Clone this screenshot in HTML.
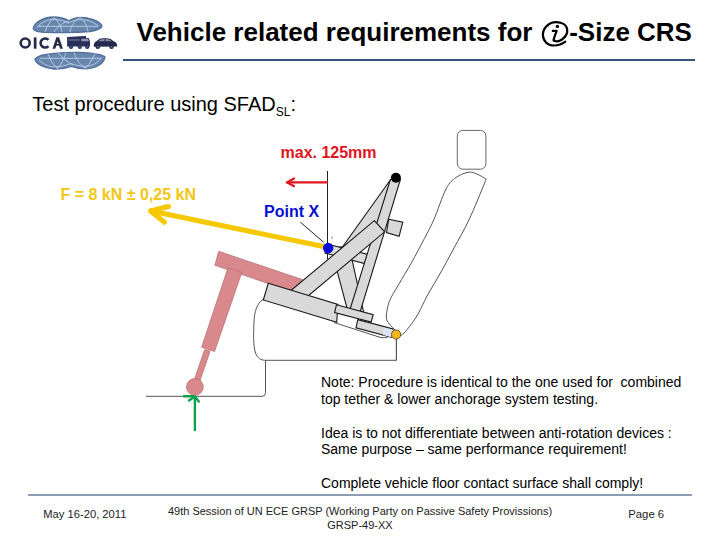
<!DOCTYPE html>
<html><head><meta charset="utf-8">
<style>
html,body{margin:0;padding:0;background:#fff;}
body{width:720px;height:540px;position:relative;overflow:hidden;font-family:"Liberation Sans",sans-serif;}
.a{position:absolute;white-space:nowrap;}
svg{position:absolute;left:0;top:0;}
#title{left:136.5px;top:16.6px;font-size:26px;line-height:30px;font-weight:bold;color:#000;}
#tline{left:123px;top:59px;width:572px;height:2px;background:#34547c;}
#sub{left:32.3px;top:92px;font-size:20px;line-height:24px;color:#000;}
#sub sub{font-size:12px;vertical-align:-5px;line-height:0;}
#note{left:321px;top:374px;font-size:14px;line-height:16.85px;color:#000;}
#bline{left:28px;top:494px;width:664px;height:2px;background:#8d9db4;}
.ft{font-size:11px;line-height:13.8px;color:#222;}
#f1{left:43.3px;top:507.8px;font-size:11.2px;}
.f2{left:0;width:720px;text-align:center;}
#f3{left:628.3px;top:507.6px;font-size:11.3px;}
.lbl{font-weight:bold;font-size:16px;line-height:18px;}
#max{left:280.5px;top:144px;color:#e0141e;}
#force{left:60.5px;top:186px;color:#f2c614;}
#px{left:264px;top:203px;color:#0a10d0;}
</style></head><body>
<svg width="720" height="540" viewBox="0 0 720 540">
  <!-- logo -->
  <g id="logo">
    <path d="M33.2,28.5 C34.5,22 44,17 53.6,17 C60,17 65.5,18.8 69.1,20.9 C72.5,18.5 76,17.3 80.2,17.3 C89,17.3 99,20.5 102,25.5 C102.3,27.5 98,30 90,31.5 C78,32.6 50,32.8 42,32.2 C37,31.6 33.3,30.5 33.2,28.5 Z" fill="#6786ae" stroke="#52709a" stroke-width="1.3"/>
    <g fill="none" stroke="#c8d8ec" stroke-width="0.9" opacity="0.9">
      <path d="M37,27.4 C42,21.5 48,19.4 54,19.4 C60,19.4 65,21 69,23.5"/>
      <path d="M68,23.3 C72,20.8 76,19.7 80.5,19.7 C88,19.7 94,22.2 98,26"/>
      <path d="M38,26.3 L98,26.3"/>
      <path d="M45,32 C47,26 50,21 54,17.5"/>
      <path d="M62,32 C61,26 58,21 54,17.5"/>
      <path d="M70,32 C71,26 74,21 80,17.5"/>
      <path d="M88,31.5 C87,26 85,21 80,17.5"/>
      <path d="M54,32 C58,26 64,22 69,21"/>
    </g>
    <path d="M35,59 C38,55.5 46,54 52,53.6 C62,52.6 72,52.2 80,52.4 C90,52.8 100,54 104.8,56.5 C105,63 96,68.5 86,68.8 C80,68.8 75,67.6 71.3,66.3 C67,68 61,69.2 54,69 C44,68 35,63.5 35,59 Z" fill="#6786ae" stroke="#52709a" stroke-width="1.3"/>
    <g fill="none" stroke="#c8d8ec" stroke-width="0.9" opacity="0.9">
      <path d="M39,60 C44,64.5 48,66.5 53,66.8 C60,67 66,65.5 71,63.5"/>
      <path d="M71,63.5 C76,65.5 82,66.8 88,66.2 C95,65 99,61 101.5,57.5"/>
      <path d="M40,58.3 L101,58.3"/>
      <path d="M48,53.5 C50,60 53,65 58,68.5"/>
      <path d="M66,52.6 C64,59 61,65 57,68.5"/>
      <path d="M74,52.5 C76,59 80,65 86,68.5"/>
      <path d="M95,53.5 C92,60 89,65 85,68.5"/>
      <path d="M58,52.5 C62,58 67,62 73,65"/>
    </g>
    <g fill="none" stroke="#262a48" stroke-width="2.6">
      <circle cx="25.2" cy="43" r="4.5"/>
      <path d="M48.44,39.99 A4.50,4.50 0 1 0 48.44,46.01"/>
      
    </g>
    <rect x="33.8" y="37.4" width="2.7" height="11.3" fill="#262a48"/><path d="M52.5,48.7 L56.4,37.3 L59.1,37.3 L62.9,48.7 L60.1,48.7 L57.75,41.2 L55.3,48.7 Z" fill="#262a48"/><rect x="55.3" y="44" width="4.8" height="1.6" fill="#262a48"/>
    <g fill="#2a2f5c">
      <path d="M67.1,36.9 L80.5,36.2 L86,36 L86,38 L88.6,38 L90,41.3 L90,46.6 L67.1,46.6 Z"/>
      <circle cx="71" cy="46.9" r="2.1"/>
      <circle cx="79.8" cy="46.9" r="2.1"/>
      <circle cx="87.2" cy="46.9" r="2.1"/>
    </g>
    <g fill="#fff" opacity="0.5">
      <path d="M81.3,38.7 L88,38.7 L88.9,41.2 L81.3,41.2 Z"/>
      <rect x="68.5" y="39.6" width="11" height="0.8"/>
    </g>
    <g fill="#24284c">
      <path d="M93.8,46.3 C93.6,43.6 94.6,42 97,40.8 L99.6,38.7 C102,38 108,38 110.6,39 L113.6,41.3 C116,42 117.3,43.6 117.2,46.6 L93.8,46.8 Z"/>
      <circle cx="97.8" cy="46.8" r="2.3"/>
      <circle cx="111.5" cy="46.8" r="2.3"/>
    </g>
    <g fill="#fff" opacity="0.45">
      <path d="M100.2,39.4 L104.5,39.1 L104.5,41.3 L98.3,41.3 Z"/>
      <path d="M105.5,39.1 C107.5,39.1 109.5,39.5 111.8,41.3 L105.5,41.3 Z"/>
    </g>
    <g fill="#fff" opacity="0.4"><circle cx="71" cy="46.9" r="0.7"/><circle cx="79.8" cy="46.9" r="0.7"/><circle cx="87.2" cy="46.9" r="0.7"/><circle cx="97.8" cy="46.8" r="0.8"/><circle cx="111.5" cy="46.8" r="0.8"/></g>
  <!-- i-Size logo -->
  <g fill="none" stroke="#000" stroke-linecap="round" stroke-linejoin="round">
    <path d="M554.5,40.6 C556.5,42 559.5,41.2 562,39.5 C565.5,37 567.6,33 567.2,29.5 C566.5,24.5 561.5,22.2 556,22.2 C549,22.2 543,28 542.9,34.5 C542.8,41 547.5,45.5 554,45.5 C558.5,45.5 562.5,43.8 565.3,41.6" stroke-width="2.2"/>
    <path d="M552.8,30.9 L556.6,30.9 C555.5,34 554.4,37 553.6,39.5 C553.3,40.5 553.8,41 554.5,40.6" stroke-width="2.2"/>
  </g>
  <circle cx="557.4" cy="26.4" r="1.7" fill="#000"/>
  <!-- seat back -->
  <g fill="none" stroke="#555" stroke-width="1">
    <rect x="457.3" y="130.4" width="28.6" height="38.8" rx="5.5" ry="5.5" stroke="#666"/>
    <path d="M395.0,330.0 C394.1,329.0 390.9,326.2 389.5,324.0 C388.1,321.8 386.3,320.8 386.3,317.0 C386.3,313.2 387.3,306.9 389.3,301.5 C391.3,296.1 394.8,291.3 398.5,284.8 C402.2,278.3 407.2,270.3 411.5,262.6 C415.8,254.9 420.7,245.6 424.4,238.5 C428.1,231.4 430.1,228.2 433.7,220.0 C437.3,211.8 442.3,196.1 446.0,189.0 C449.7,181.9 452.2,180.3 456.0,177.5 C459.8,174.7 465.2,172.7 468.9,172.2 C472.6,171.7 475.2,173.4 478.0,174.5 C480.8,175.6 484.3,178.2 485.6,178.9"/>
    <path d="M485.6,178.9 C485.4,179.6 487.4,176.2 484.6,183.0 C481.8,189.8 474.0,209.2 468.9,220.0 C463.8,230.8 458.7,239.2 454.1,247.8 C449.5,256.4 445.4,264.2 441.1,271.9 C436.8,279.6 432.0,287.1 428.1,294.1 C424.2,301.1 421.1,308.6 418.0,314.0 C414.9,319.4 412.1,323.1 409.5,326.5 C406.9,329.9 404.4,332.9 402.4,334.5 C400.4,336.1 398.3,335.8 397.5,336.0"/>
    <!-- cushion -->
    <path d="M263,299.5 C257,303 254.3,312 254,322 C253.5,333 253,345 255.5,353 C257.5,358.5 261,360.3 266,360.3 L396.4,360.3 L396.4,336"/>
    <!-- floor -->
    <path d="M146,396.3 L262,396.3 Q265.5,396.3 265.5,392.8 L265.5,360.3"/>
    <path d="M334,322.5 L379,337 C383,338.3 386.5,337.8 389.5,336"/>
  </g>

  <!-- pink manikin -->
  <g fill="#d9888c" stroke="#bb7479" stroke-width="0.8">
    <path d="M218.7,251.3 L303,279.8 L296,293 L214.9,265.3 Z"/>
    <path d="M228,267.8 L241.8,272.5 L214.6,351.5 L201.6,347.3 Z"/>
    <path d="M204.7,349.6 L210.1,351.3 L197.6,387.5 L192.2,385.7 Z"/>
    <circle cx="194.9" cy="386.9" r="8.4"/>
  </g>
  <!-- green arrow -->
  <g stroke="#0ea04a" stroke-width="2.4" fill="none" stroke-linecap="round">
    <path d="M194.9,430 L194.9,397"/>
    <path d="M189,400.5 L194.9,396.5 L198.8,401.5"/>
    <path d="M184,396.3 L193,396.3"/>
  </g>

  <!-- yellow force arrow -->
  <g stroke="#f6c802" stroke-width="5" fill="none" stroke-linecap="round" stroke-linejoin="round">
    <path d="M151,211 L326,247"/>
    <path d="M168.5,206.5 L150.5,211 L164.5,222.3"/>
  </g>

  <!-- SFAD -->
  <g fill="#d9d9d9" stroke="#1a1a1a" stroke-width="1.1" stroke-linejoin="miter">
    <!-- left leg -->
    <path d="M331,248 L349,246 L363.6,312 L348,312 Z"/>
    <!-- small bar from point X -->
    <path d="M327,244 L367.8,254.4 L364.5,263.5 L325,253 Z" fill="#dcdcdc"/>
    <!-- square -->
    <path d="M388.7,219.3 L402.8,222.2 L399.1,236.3 L386.5,232.6 Z"/>
    <!-- triangle -->
    <path d="M391,179 L336,256 L375,232 L390.5,180 Z"/>
    <!-- strut -->
    <path d="M390.4,179.5 L400.4,179.5 L360.4,311 L349.5,311 Z"/>
    <!-- diagonal bar -->
    <path d="M374.3,220.7 L384.6,231.8 L300.3,302.5 L290,291.4 Z"/>
    <!-- base bar -->
    <path d="M268.3,283.3 L338,304.5 L336.7,322.2 L263.3,300 Z"/>
    <!-- middle rail -->
    <path d="M336.5,304.8 L373.2,314.6 L371.2,322 L334.6,312.6 Z"/>
    <!-- lower rail -->
    <path d="M357.8,319.6 L393,329 L391.5,337.3 L356,327.9 Z"/>
  </g>
  <path d="M384,327.5 L393,330 L391.5,337.3 L383,335 Z" fill="#dfe2f2"/>
  <!-- point X lines -->
  <g stroke="#222" stroke-width="1" fill="none">
    <path d="M327.5,171 L327.5,259"/>
    <path d="M300.4,222.2 L323.7,242.3"/>
    <path d="M332.3,236.5 L331.8,239" stroke="#666" stroke-width="0.8"/>
  </g>
  <!-- red arrow -->
  <g stroke="#e3141e" stroke-width="2.2" fill="none" stroke-linecap="round" stroke-linejoin="round">
    <path d="M327,182.4 L287,182.4"/>
    <path d="M294,178.5 L287,182.4 L294,186.2"/>
  </g>
  <circle cx="328.2" cy="248" r="5.2" fill="#0a0fd8"/>
  <circle cx="395.9" cy="177.8" r="5" fill="#000"/>
  <circle cx="396.1" cy="334.5" r="4.6" fill="#f4b81c" stroke="#4a3a10" stroke-width="0.8"/>
  <path d="M396.4,339 L396.4,360.3" stroke="#555" stroke-width="1"/>
</svg>
<div class="a" id="title">Vehicle related requirements for <span style="display:inline-block;width:29.5px"></span>-Size CRS</div>
<div class="a" id="tline"></div>
<div class="a" id="sub">Test procedure using SFAD<sub>SL</sub>:</div>
<div class="a lbl" id="max">max. 125mm</div>
<div class="a lbl" id="force">F = 8 kN ± 0,25 kN</div>
<div class="a lbl" id="px">Point X</div>
<div class="a" id="note">Note: Procedure is identical to the one used for&nbsp; combined<br>top tether &amp; lower anchorage system testing.<br><br>Idea is to not differentiate between anti-rotation devices :<br>Same purpose – same performance requirement!<br><br>Complete vehicle floor contact surface shall comply!</div>
<div class="a" id="bline"></div>
<div class="a ft" id="f1">May 16-20, 2011</div>
<div class="a ft f2" style="top:505px">49th Session of UN ECE GRSP (Working Party on Passive Safety Provissions)</div>
<div class="a ft f2" style="top:519px">GRSP-49-XX</div>
<div class="a ft" id="f3">Page 6</div>
</body></html>
